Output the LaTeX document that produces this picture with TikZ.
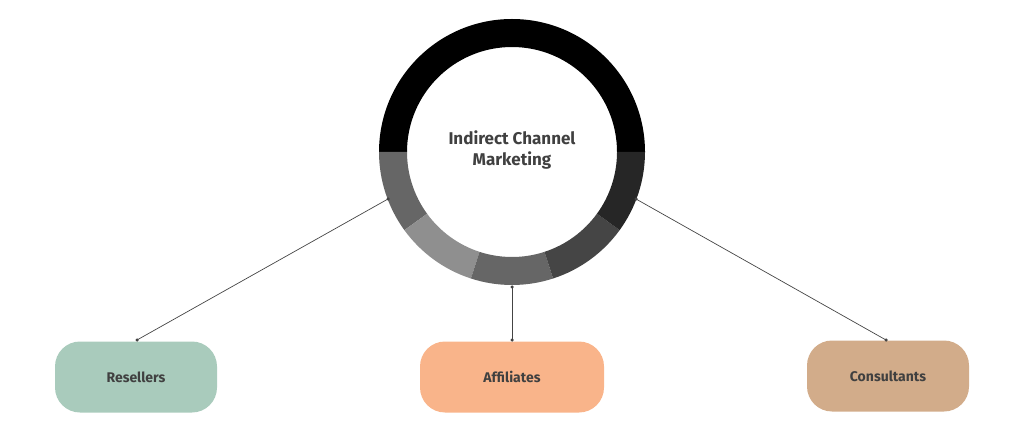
\documentclass[tikz,border=0pt]{standalone}
\usepackage{fontspec}
\setmainfont{Fira Sans}
\begin{document}
\begin{tikzpicture}[x=1pt,y=1pt,
  box/.style={rounded corners=25pt,minimum width=162pt,minimum height=71pt,inner sep=0pt,font=\bfseries\fontsize{14}{16}\selectfont,text=txt},
  conn/.style={draw=lin,line width=0.7pt},
  dotend/.style={circle,fill=lin,inner sep=0pt,minimum size=3.5pt}]
\definecolor{txt}{HTML}{404040}
\definecolor{lin}{HTML}{444444}
\definecolor{cA}{HTML}{A9CBBC}
\definecolor{cB}{HTML}{F9B48A}
\definecolor{cC}{HTML}{D2AC8A}
\useasboundingbox (0,0) rectangle (1024,442);
\coordinate (c) at (512,290);
\def\ringseg#1#2#3{\fill[#3] ([shift={(#1:133)}]c) arc (#1:#2:133) -- ([shift={(#2:105)}]c) arc (#2:#1:105) -- cycle;}
\ringseg{0}{180}{black}
\ringseg{180}{216}{black!60}
\ringseg{216}{252}{black!44}
\ringseg{252}{288}{black!60}
\ringseg{288}{324}{black!73}
\ringseg{324}{360}{black!85}
\node[font=\bfseries\fontsize{17}{21}\selectfont,text=txt,align=center] (title) at (512,292) {Indirect Channel\\Marketing};
\node[box,fill=cA] (res) at (136,65) {Resellers};
\node[box,fill=cB,minimum width=184pt] (aff) at (512,65) {Affiliates};
\node[box,fill=cC] (con) at (888,66) {Consultants};
\node[dotend] (p1) at (388,243) {};
\node[dotend] (p2) at (512,155) {};
\node[dotend] (p3) at (636,243) {};
\node[dotend] (q1) at (137,102) {};
\node[dotend] (q2) at (512,102) {};
\node[dotend] (q3) at (886,102) {};
\draw[conn] (p1.center) -- (q1.center);
\draw[conn] (p2.center) -- (q2.center);
\draw[conn] (p3.center) -- (q3.center);
\end{tikzpicture}
\end{document}
